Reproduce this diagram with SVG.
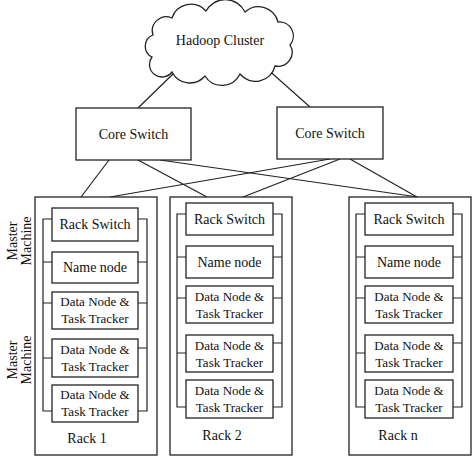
<svg xmlns="http://www.w3.org/2000/svg" width="474" height="458" viewBox="0 0 474 458">
<style>
text{font-family:'Liberation Serif','Times New Roman',Times,'DejaVu Serif',serif;fill:#111;text-anchor:middle}
.t14{font-size:14px}
.t13{font-size:13px}
.box{fill:#fff;stroke:#222;stroke-width:1.3}
.ln{fill:none;stroke:#222;stroke-width:1.2}
</style>
<rect width="474" height="458" fill="#fff"/>
<g id="connectors">
<line class="ln" x1="175" y1="72" x2="138" y2="108"/>
<line class="ln" x1="265" y1="67" x2="310" y2="107"/>
<line class="ln" x1="109" y1="160" x2="81" y2="197"/>
<line class="ln" x1="138" y1="160" x2="207" y2="197"/>
<line class="ln" x1="160" y1="160" x2="418" y2="197"/>
<line class="ln" x1="330" y1="159" x2="110" y2="197"/>
<line class="ln" x1="340" y1="159" x2="243" y2="197"/>
<line class="ln" x1="350" y1="159" x2="417" y2="197"/>
</g>
<g id="cloud">
<path class="box" d="M172 72 A12 12 0 0 1 152 57 A12 12 0 0 1 153 35 A14 14 0 0 1 172 18 A20 20 0 0 1 206 11 A22 22 0 0 1 245 12 A20 20 0 0 1 278 22 A14 14 0 0 1 290 45 A14 14 0 0 1 275 66 A20 20 0 0 1 240 74 A20 20 0 0 1 205 76 A20 20 0 0 1 172 72 Z"/>
<text class="t14" x="220" y="45" font-family="Liberation Serif, serif">Hadoop Cluster</text>
</g>
<g id="core1">
<rect class="box" x="76" y="108" width="115" height="52"/>
<text class="t14" x="133.5" y="139">Core Switch</text>
</g>
<g id="core2">
<rect class="box" x="277" y="107" width="106" height="52"/>
<text class="t14" x="330" y="138">Core Switch</text>
</g>
<g id="master-labels">
<text class="t14" transform="translate(17,241) rotate(-90)">Master</text>
<text class="t14" transform="translate(31,241) rotate(-90)">Machine</text>
<text class="t14" transform="translate(17,360) rotate(-90)">Master</text>
<text class="t14" transform="translate(31,360) rotate(-90)">Machine</text>
</g>
<g id="rack1">
<rect class="box" x="35" y="197" width="122" height="258"/>
<path class="ln" d="M52 219H43V411H52M43 262H52M43 303H52M43 358H52"/>
<path class="ln" d="M138 219H147V411H138M147 262H138M147 303H138M147 348H138"/>
<rect class="box" x="52" y="208" width="86" height="33"/>
<text class="t14" x="95" y="229">Rack Switch</text>
<rect class="box" x="52" y="252" width="86" height="31"/>
<text class="t14" x="95" y="272">Name node</text>
<rect class="box" x="52" y="292" width="86" height="37"/>
<text class="t13" x="95" y="306">Data Node &amp;</text>
<text class="t13" x="95" y="323">Task Tracker</text>
<rect class="box" x="52" y="339" width="86" height="38"/>
<text class="t13" x="95" y="353.5">Data Node &amp;</text>
<text class="t13" x="95" y="370.5">Task Tracker</text>
<rect class="box" x="52" y="385" width="86" height="37"/>
<text class="t13" x="95" y="399">Data Node &amp;</text>
<text class="t13" x="95" y="416">Task Tracker</text>
<text class="t14" x="87" y="443">Rack 1</text>
</g>
<g id="rack2">
<rect class="box" x="170" y="197" width="122" height="258"/>
<path class="ln" d="M186 214H177V407H186M177 257H186M177 298H186M177 353H186"/>
<path class="ln" d="M273 214H282V407H273M282 257H273M282 298H273M282 343H273"/>
<rect class="box" x="186" y="203" width="87" height="32"/>
<text class="t14" x="229.5" y="224">Rack Switch</text>
<rect class="box" x="186" y="246" width="87" height="32"/>
<text class="t14" x="229.5" y="267">Name node</text>
<rect class="box" x="186" y="286" width="87" height="37"/>
<text class="t13" x="229.5" y="301">Data Node &amp;</text>
<text class="t13" x="229.5" y="318">Task Tracker</text>
<rect class="box" x="186" y="335" width="87" height="37"/>
<text class="t13" x="229.5" y="350">Data Node &amp;</text>
<text class="t13" x="229.5" y="367">Task Tracker</text>
<rect class="box" x="186" y="380" width="87" height="38"/>
<text class="t13" x="229.5" y="395">Data Node &amp;</text>
<text class="t13" x="229.5" y="412">Task Tracker</text>
<text class="t14" x="222" y="440">Rack 2</text>
</g>
<g id="rackn">
<rect class="box" x="349" y="197" width="122" height="258"/>
<path class="ln" d="M365 214H356V407H365M356 257H365M356 298H365M356 353H365"/>
<path class="ln" d="M453 214H462V407H453M462 257H453M462 298H453M462 343H453"/>
<rect class="box" x="365" y="203" width="88" height="32"/>
<text class="t14" x="409" y="224">Rack Switch</text>
<rect class="box" x="365" y="246" width="88" height="32"/>
<text class="t14" x="409" y="267">Name node</text>
<rect class="box" x="365" y="286" width="88" height="37"/>
<text class="t13" x="409" y="301">Data Node &amp;</text>
<text class="t13" x="409" y="318">Task Tracker</text>
<rect class="box" x="365" y="335" width="88" height="37"/>
<text class="t13" x="409" y="350">Data Node &amp;</text>
<text class="t13" x="409" y="367">Task Tracker</text>
<rect class="box" x="365" y="380" width="88" height="38"/>
<text class="t13" x="409" y="395">Data Node &amp;</text>
<text class="t13" x="409" y="412">Task Tracker</text>
<text class="t14" x="398" y="440">Rack n</text>
</g>
</svg>
